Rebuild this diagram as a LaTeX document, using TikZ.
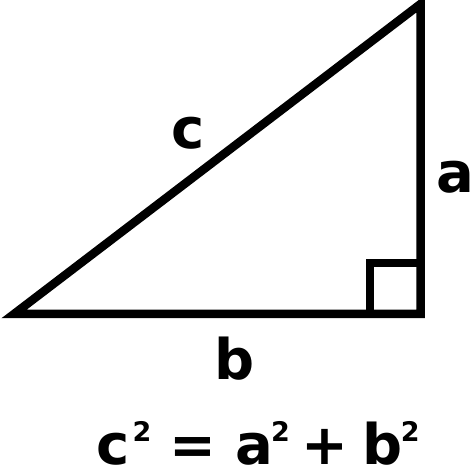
\documentclass[tikz,border=0pt]{standalone}
\usepackage{fontspec}
\setmainfont{DejaVu Sans}
\newcommand\sqtwo{\raisebox{23pt}{\fontsize{27}{27}\selectfont 2}}
\begin{document}
\begin{tikzpicture}[x=1pt,y=-1pt,line width=8.5pt,
  lbl/.style={font=\fontsize{56}{56}\bfseries\selectfont,inner sep=0pt,anchor=base}]
\useasboundingbox (0,0) rectangle (474,470);
\fill[white] (0,0) rectangle (474,470);
\coordinate (A) at (14,314);
\coordinate (B) at (420.5,314);
\coordinate (C) at (420.5,4);
\coordinate (S1) at (370,314);
\coordinate (S3) at (420.5,263);
\draw[miter limit=10] (A) -- (B) -- (C) -- cycle;
\draw (S1) |- (S3);
\node[lbl] (lc) at (188,149) {c};
\node[lbl] (la) at (455,193) {a};
\node[lbl] (lb) at (235,380) {b};
\node[lbl] (eq) at (258,464) {c\hspace{3pt}\sqtwo\hspace{18pt}=\hspace{19pt}a\hspace{-2pt}\sqtwo\hspace{12pt}+\hspace{14pt}b\hspace{-2pt}\sqtwo};
\end{tikzpicture}
\end{document}
